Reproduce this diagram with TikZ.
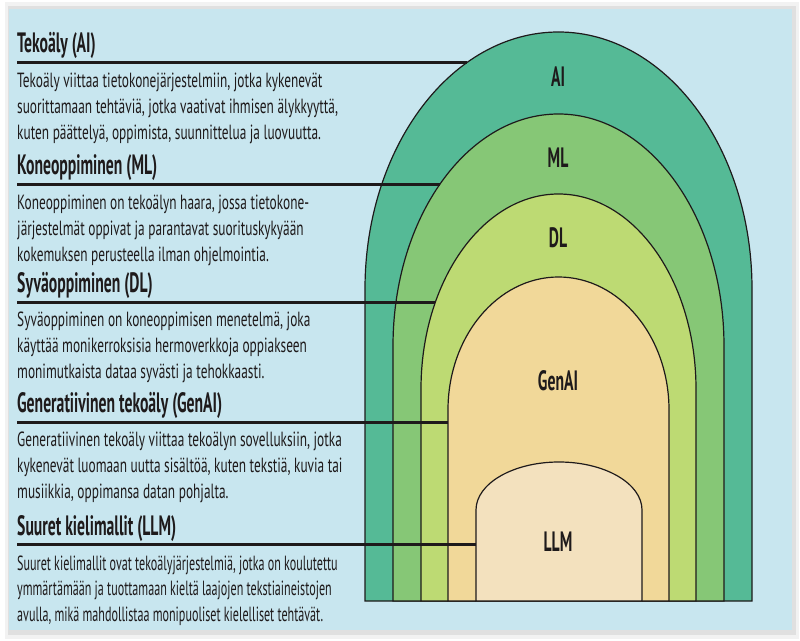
\documentclass[tikz,border=0pt]{standalone}
\usepackage{fontspec}
\setmainfont{PT Sans}[FakeStretch=0.65]
\newfontfamily\headfont{PT Sans}[FakeStretch=0.56]
\newfontfamily\tightfont{PT Sans}[FakeStretch=0.59]
\usepackage{xcolor}
\usepackage{tikz}
\usetikzlibrary{positioning}
\definecolor{panelbg}{RGB}{200,230,239}
\definecolor{ink}{RGB}{30,26,27}
\definecolor{aicol}{RGB}{85,186,150}
\definecolor{mlcol}{RGB}{134,199,118}
\definecolor{dlcol}{RGB}{189,218,115}
\definecolor{gencol}{RGB}{241,216,153}
\definecolor{llmcol}{RGB}{243,225,190}
\tikzset{
  heading/.style={anchor=base west, inner sep=0pt, text=ink,
    font=\headfont\bfseries\fontsize{28}{30}\selectfont},
  body text/.style={anchor=base west, inner sep=0pt, align=left, text=ink,
    font=\fontsize{20.5}{25.7}\selectfont},
  arch/.style={draw=ink, line width=1.2pt},
  arch label/.style={anchor=base, inner sep=0pt, text=ink,
    font=\headfont\bfseries\fontsize{28}{30}\selectfont},
  rule/.style={draw=ink, line width=2.4pt}
}

\begin{document}
\begin{tikzpicture}[x=1pt,y=1pt]
  \useasboundingbox (0,0) rectangle (800,640);
  % frame with soft shadow
  \fill[white] (0,0) rectangle (800,640);
  \fill[black!5] (5,1) rectangle (799,638);
  \fill[black!12] (8,5) rectangle (796,634);
  \fill[panelbg] (9,10) rectangle (792,631);

  % nested arches
  \draw[arch, fill=aicol] (365,39) -- (365,351) arc[start angle=180, end angle=0, x radius=193.5pt, y radius=257pt] -- (752,39) -- cycle;
  \draw[arch, fill=mlcol] (393,39) -- (393,294) arc[start angle=180, end angle=0, x radius=165.5pt, y radius=232pt] -- (724,39) -- cycle;
  \draw[arch, fill=dlcol] (421,39) -- (421,251) arc[start angle=180, end angle=0, x radius=137.5pt, y radius=195pt] -- (696,39) -- cycle;
  \draw[arch, fill=gencol] (448,39) -- (448,230) arc[start angle=180, end angle=0, x radius=110.5pt, y radius=133pt] -- (669,39) -- cycle;
  \draw[arch, fill=llmcol] (476,39) -- (476,130) arc[start angle=180, end angle=0, x radius=83pt, y radius=48pt] -- (642,39) -- cycle;

  \node[arch label] (lAI) at (558,553) {AI};
  \node[arch label] (lML) at (558,472) {ML};
  \node[arch label] (lDL) at (558,392) {DL};
  \node[arch label] (lGen) at (558,249) {GenAI};
  \node[arch label] (lLLM) at (558,89) {LLM};

  % headings and texts (base of a text block = its last line)
  \node[heading] (hAI) at (17,587) {Tekoäly (AI)};
  \node[body text] (tAI) at ([yshift=-86.4pt]hAI.base west)
    {Tekoäly viittaa tietokonejärjestelmiin, jotka kykenevät\\
     suorittamaan tehtäviä, jotka vaativat ihmisen älykkyyttä,\\
     kuten päättelyä, oppimista, suunnittelua ja luovuutta.};
  \node[heading] (hML) at (17,465) {Koneoppiminen (ML)};
  \node[body text] (tML) at ([yshift=-86.4pt]hML.base west)
    {Koneoppiminen on tekoälyn haara, jossa tietokone-\\
     järjestelmät oppivat ja parantavat suorituskykyään\\
     kokemuksen perusteella ilman ohjelmointia.};
  \node[heading] (hDL) at (17,347) {Syväoppiminen (DL)};
  \node[body text] (tDL) at ([yshift=-85.4pt]hDL.base west)
    {Syväoppiminen on koneoppimisen menetelmä, joka\\
     käyttää monikerroksisia hermoverkkoja oppiakseen\\
     monimutkaista dataa syvästi ja tehokkaasti.};
  \node[heading] (hGen) at (17,227) {Generatiivinen tekoäly (GenAI)};
  \node[body text] (tGen) at ([yshift=-85.4pt]hGen.base west)
    {Generatiivinen tekoäly viittaa tekoälyn sovelluksiin, jotka\\
     kykenevät luomaan uutta sisältöä, kuten tekstiä, kuvia tai\\
     musiikkia, oppimansa datan pohjalta.};
  \node[heading] (hLLM) at (17,105) {Suuret kielimallit (LLM)};
  \node[body text, font=\tightfont\fontsize{20.5}{25.7}\selectfont] (tLLM) at ([yshift=-86.4pt]hLLM.base west)
    {Suuret kielimallit ovat tekoälyjärjestelmiä, jotka on koulutettu\\
     ymmärtämään ja tuottamaan kieltä laajojen tekstiaineistojen\\
     avulla, mikä mahdollistaa monipuoliset kielelliset tehtävät.};

  % rules out to the arches
  \coordinate (eAI) at ({558.5-193.5*sqrt(1-((577.5-351)/257)^2)}, 577.5);
  \coordinate (eML) at ({558.5-165.5*sqrt(1-((455.5-294)/232)^2)}, 455.5);
  \coordinate (eDL) at ({558.5-137.5*sqrt(1-((337.5-251)/195)^2)}, 337.5);
  \coordinate (eGen) at (448,217.5);
  \coordinate (eLLM) at (476,95.5);
  \draw[rule] ([yshift=-9.5pt]hAI.base west) -- (eAI);
  \draw[rule] ([yshift=-9.5pt]hML.base west) -- (eML);
  \draw[rule] ([yshift=-9.5pt]hDL.base west) -- (eDL);
  \draw[rule] ([yshift=-9.5pt]hGen.base west) -- (eGen);
  \draw[rule] ([yshift=-9.5pt]hLLM.base west) -- (eLLM);
\end{tikzpicture}
\end{document}
